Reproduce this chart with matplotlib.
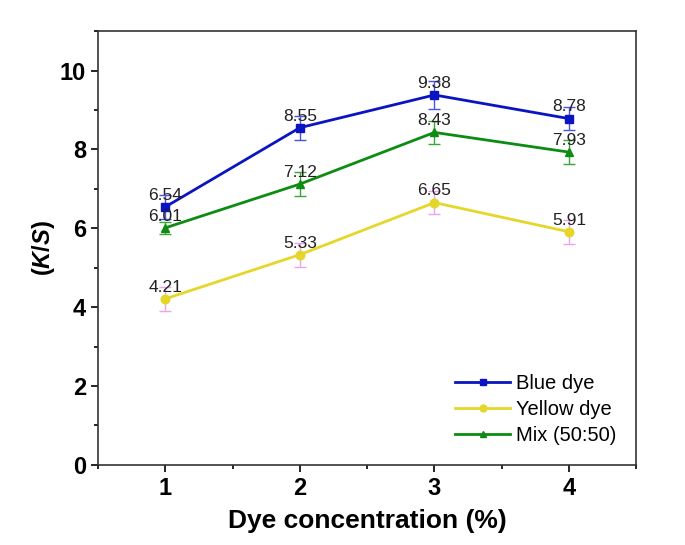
import matplotlib
matplotlib.use('Agg')
import matplotlib.pyplot as plt
from matplotlib.ticker import MultipleLocator

plt.rcParams['font.family'] = ['Liberation Sans', 'DejaVu Sans']
plt.rcParams['mathtext.fontset'] = 'custom'
plt.rcParams['mathtext.it'] = 'Liberation Sans:italic:bold'
plt.rcParams['mathtext.rm'] = 'Liberation Sans:bold'
plt.rcParams['mathtext.bf'] = 'Liberation Sans:bold'

# data
concentration = [1, 2, 3, 4]
blue_dye = [6.54, 8.55, 9.38, 8.78]
yellow_dye = [4.21, 5.33, 6.65, 5.91]
mix_dye = [6.01, 7.12, 8.43, 7.93]
blue_err = [0.3, 0.3, 0.35, 0.3]
yellow_err = [0.3, 0.3, 0.3, 0.3]
mix_err = [0.15, 0.3, 0.3, 0.3]

series = [
    ('Blue dye', blue_dye, blue_err, '#0a14c0', '#4b55e0', 's'),
    ('Yellow dye', yellow_dye, yellow_err, '#e6d62a', '#e8a6e8', 'o'),
    ('Mix (50:50)', mix_dye, mix_err, '#0c8c12', '#3aa63a', '^'),
]

fig = plt.figure(figsize=(6.85, 5.45), dpi=100)
ax = fig.add_axes([0.143, 0.147, 0.786, 0.796])

for name, vals, err, col, ecol, mk in series:
    ax.errorbar(concentration, vals, yerr=err, fmt='none', ecolor=ecol,
                elinewidth=1, capsize=4, capthick=1, zorder=2)
    ax.plot(concentration, vals, color=col, marker=mk, markersize=6.2,
            linewidth=2, label=name, zorder=3)
    for x, v in zip(concentration, vals):
        ax.annotate(f'{v:.2f}', (x, v), xytext=(0, 3), textcoords='offset points',
                    ha='center', va='bottom', fontsize=12.5, color='#222222')

ax.set_xlim(0.5, 4.5)
ax.set_ylim(0, 11)
ax.set_xticks(concentration)
ax.xaxis.set_minor_locator(MultipleLocator(0.5))
ax.yaxis.set_major_locator(MultipleLocator(2))
ax.yaxis.set_minor_locator(MultipleLocator(1))
ax.tick_params(which='both', direction='out', top=False, right=False)
ax.tick_params(which='major', length=5, width=1.2, labelsize=17)
ax.tick_params(which='minor', length=3, width=1.2)
for lbl in ax.get_xticklabels() + ax.get_yticklabels():
    lbl.set_fontweight('bold')
for sp in ax.spines.values():
    sp.set_linewidth(1.2)
    sp.set_color('#333333')

ax.set_xlabel('Dye concentration (%)', fontsize=19, fontweight='bold', labelpad=7)
ax.set_ylabel(r'($\it{K/S}$)', fontsize=17, fontweight='bold', labelpad=2)

ax.legend(loc='lower right', frameon=False, fontsize=14.5, handlelength=2.7,
          borderaxespad=0.4, borderpad=0.6, labelspacing=0.35, handletextpad=0.3,
          markerscale=0.8)

fig.savefig('out.png', dpi=100)
